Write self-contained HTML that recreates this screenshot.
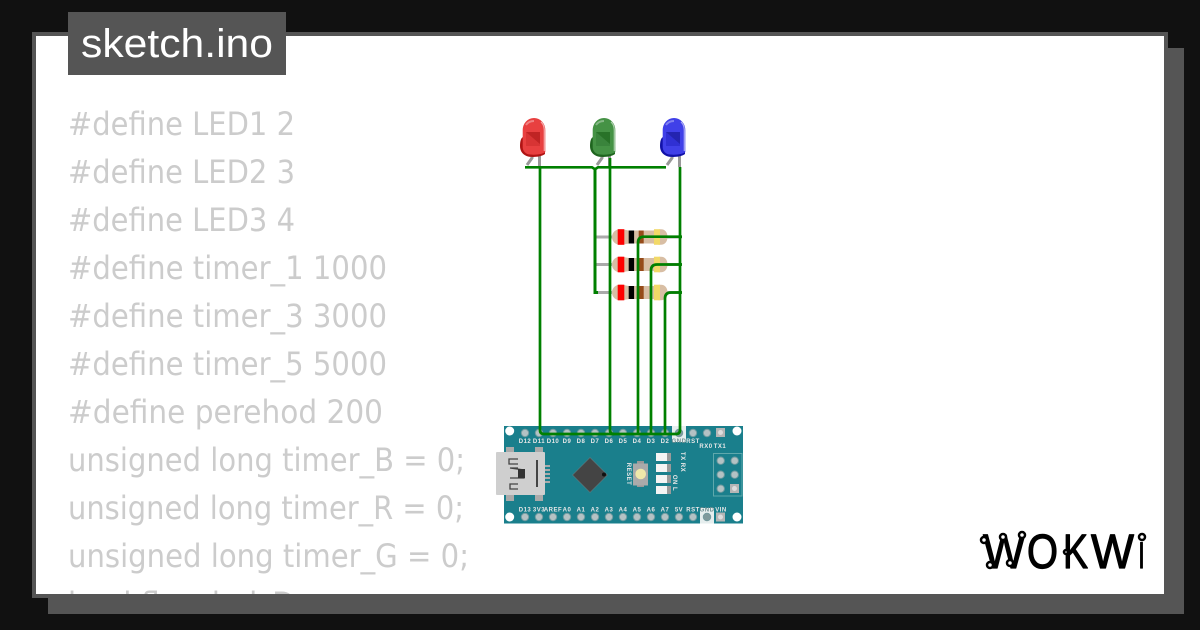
<!DOCTYPE html>
<html><head><meta charset="utf-8"><style>
html,body{margin:0;padding:0;width:1200px;height:630px;overflow:hidden;background:#111}
svg{display:block}
.c{font-family:"DejaVu Sans",sans-serif;font-size:32px;fill:#ccc}
.p{font-family:"Liberation Sans",sans-serif;font-size:6px;font-weight:bold;fill:#e8e8e8;text-anchor:middle;letter-spacing:.5px}
.w{font-family:"Liberation Sans",sans-serif;font-size:48px;fill:#000;stroke:#000;stroke-width:1.2;stroke-linejoin:round}
</style></head><body>
<svg width="1200" height="630" viewBox="0 0 1200 630" xmlns="http://www.w3.org/2000/svg">
<rect width="1200" height="630" fill="#111"/>
<rect x="48" y="48" width="1136" height="566" fill="#555"/>
<rect x="32" y="32" width="1136" height="566" fill="#555"/>
<rect x="36" y="36" width="1128" height="558" fill="#fff"/>
<clipPath id="cl"><rect x="36" y="36" width="1128" height="558"/></clipPath>
<g clip-path="url(#cl)">
<text class="c" x="68" y="135" textLength="227" lengthAdjust="spacingAndGlyphs">#define LED1 2</text>
<text class="c" x="68" y="183" textLength="227" lengthAdjust="spacingAndGlyphs">#define LED2 3</text>
<text class="c" x="68" y="231" textLength="227" lengthAdjust="spacingAndGlyphs">#define LED3 4</text>
<text class="c" x="68" y="279" textLength="319" lengthAdjust="spacingAndGlyphs">#define timer_1 1000</text>
<text class="c" x="68" y="327" textLength="319" lengthAdjust="spacingAndGlyphs">#define timer_3 3000</text>
<text class="c" x="68" y="375" textLength="319" lengthAdjust="spacingAndGlyphs">#define timer_5 5000</text>
<text class="c" x="68" y="423" textLength="315" lengthAdjust="spacingAndGlyphs">#define perehod 200</text>
<text class="c" x="68" y="471" textLength="397" lengthAdjust="spacingAndGlyphs">unsigned long timer_B = 0;</text>
<text class="c" x="68" y="519" textLength="396" lengthAdjust="spacingAndGlyphs">unsigned long timer_R = 0;</text>
<text class="c" x="68" y="567" textLength="401" lengthAdjust="spacingAndGlyphs">unsigned long timer_G = 0;</text>
<text class="c" x="68" y="615" textLength="227" lengthAdjust="spacingAndGlyphs">bool flag_led_D</text>
</g>
<rect x="68" y="12" width="218" height="63" fill="#555"/>
<text x="81" y="57" font-family="'Liberation Sans',sans-serif" font-size="40" fill="#fff" textLength="192" lengthAdjust="spacingAndGlyphs">sketch.ino</text>

<!-- LED leads -->
<g fill="none" stroke="#999" stroke-width="3">
<path d="M532 155v3l-5 7M539.500 155v12"/>
<path d="M602 155v3l-5 7M609.500 155v12"/>
<path d="M672 155v3l-5 7M679.500 155v12"/>
</g>
<!-- LEDs -->
<g>
<path d="M520 146c0-5 1-8 3-9l5 0 17 14 0 3c-4 3-12 3.500-17 2.500-5-1.500-8-5-8-10.500z" fill="#b01414"/>
<path d="M522.700 130a11.300 12 0 0 1 22.600 0v22c-3 2.500-12 3.500-18 2-3-1.500-4.600-4-4.600-7z" fill="#e84040"/>
<path d="M526 132h14v14h-14z" fill="#d83434"/>
<path d="M526 132l14 12v-12z" fill="#c02424"/>
<path d="M541 122c2.500 2 3.300 5 3.300 9v20" fill="none" stroke="#fff" stroke-opacity=".55" stroke-width="1.200"/>
<path d="M526 125c2-3 5-4 8-4" fill="none" stroke="#fff" stroke-opacity=".35" stroke-width="2"/>
</g>
<g transform="translate(70 0)">
<path d="M520 146c0-5 1-8 3-9l5 0 17 14 0 3c-4 3-12 3.500-17 2.500-5-1.500-8-5-8-10.500z" fill="#1f651f"/>
<path d="M522.700 130a11.300 12 0 0 1 22.600 0v22c-3 2.500-12 3.500-18 2-3-1.500-4.600-4-4.600-7z" fill="#459245"/>
<path d="M526 132h14v14h-14z" fill="#3a843c"/>
<path d="M526 132l14 12v-12z" fill="#287228"/>
<path d="M541 122c2.500 2 3.300 5 3.300 9v20" fill="none" stroke="#fff" stroke-opacity=".55" stroke-width="1.200"/>
<path d="M526 125c2-3 5-4 8-4" fill="none" stroke="#fff" stroke-opacity=".35" stroke-width="2"/>
</g>
<g transform="translate(140 0)">
<path d="M520 146c0-5 1-8 3-9l5 0 17 14 0 3c-4 3-12 3.500-17 2.500-5-1.500-8-5-8-10.500z" fill="#1212a8"/>
<path d="M522.700 130a11.300 12 0 0 1 22.600 0v22c-3 2.500-12 3.500-18 2-3-1.500-4.600-4-4.600-7z" fill="#4040e8"/>
<path d="M526 132h14v14h-14z" fill="#3030d4"/>
<path d="M526 132l14 12v-12z" fill="#2424b0"/>
<path d="M541 122c2.500 2 3.300 5 3.300 9v20" fill="none" stroke="#fff" stroke-opacity=".55" stroke-width="1.200"/>
<path d="M526 125c2-3 5-4 8-4" fill="none" stroke="#fff" stroke-opacity=".35" stroke-width="2"/>
</g>

<!-- Resistors -->
<g>
<path d="M595 237H612M660 237H682" stroke="#aaa" stroke-width="3" fill="none"/>
<path d="M612 237c0-5 4-7.800 8-7.800 5 0 6 1.300 11 1.300h20c5 0 6-1.300 10-1.300 4 0 6.500 3 6.500 7.800s-3 7.800-6.500 7.800c-4 0-5-1.300-10-1.300h-20c-5 0-6 1.300-11 1.300-4 0-8-2.800-8-7.800z" fill="#d8bea4"/>
<rect x="617.700" y="229.200" width="6.600" height="15.600" fill="#f00"/>
<rect x="628.700" y="230.500" width="5.400" height="13" fill="#000"/>
<rect x="638.700" y="230.500" width="5" height="13" fill="#964b1a"/>
<rect x="654" y="229.200" width="6" height="15.600" fill="#f2d968"/>
</g>
<g transform="translate(0 27.500)">
<path d="M595 237H612M660 237H682" stroke="#aaa" stroke-width="3" fill="none"/>
<path d="M612 237c0-5 4-7.800 8-7.800 5 0 6 1.300 11 1.300h20c5 0 6-1.300 10-1.300 4 0 6.500 3 6.500 7.800s-3 7.800-6.500 7.800c-4 0-5-1.300-10-1.300h-20c-5 0-6 1.300-11 1.300-4 0-8-2.800-8-7.800z" fill="#d8bea4"/>
<rect x="617.700" y="229.200" width="6.600" height="15.600" fill="#f00"/>
<rect x="628.700" y="230.500" width="5.400" height="13" fill="#000"/>
<rect x="638.700" y="230.500" width="5" height="13" fill="#964b1a"/>
<rect x="654" y="229.200" width="6" height="15.600" fill="#f2d968"/>
</g>
<g transform="translate(0 55.500)">
<path d="M595 237H612M660 237H682" stroke="#aaa" stroke-width="3" fill="none"/>
<path d="M612 237c0-5 4-7.800 8-7.800 5 0 6 1.300 11 1.300h20c5 0 6-1.300 10-1.300 4 0 6.500 3 6.500 7.800s-3 7.800-6.500 7.800c-4 0-5-1.300-10-1.300h-20c-5 0-6 1.300-11 1.300-4 0-8-2.800-8-7.800z" fill="#d8bea4"/>
<rect x="617.700" y="229.200" width="6.600" height="15.600" fill="#f00"/>
<rect x="628.700" y="230.500" width="5.400" height="13" fill="#000"/>
<rect x="638.700" y="230.500" width="5" height="13" fill="#964b1a"/>
<rect x="654" y="229.200" width="6" height="15.600" fill="#f2d968"/>
</g>

<!-- Board -->
<rect x="504" y="426" width="239" height="97.500" fill="#1a7f8c"/>
<rect x="672" y="426" width="14" height="16" fill="#e6eeee"/>
<rect x="700" y="508" width="14" height="15.500" fill="#e6eeee"/>
<g fill="#fff">
<circle cx="509.700" cy="431" r="4.500"/><circle cx="509.700" cy="517" r="4.500"/>
<circle cx="737" cy="431" r="4.500"/><circle cx="737" cy="517" r="4.500"/>
</g>
<g fill="#b4c2c4" stroke="#6f9a9f" stroke-width="1">
<circle cx="525" cy="433" r="3.700"/><circle cx="539" cy="433" r="3.700"/><circle cx="553" cy="433" r="3.700"/><circle cx="567" cy="433" r="3.700"/><circle cx="581" cy="433" r="3.700"/><circle cx="595" cy="433" r="3.700"/><circle cx="609" cy="433" r="3.700"/><circle cx="623" cy="433" r="3.700"/><circle cx="637" cy="433" r="3.700"/><circle cx="651" cy="433" r="3.700"/><circle cx="665" cy="433" r="3.700"/><circle cx="679" cy="433" r="3.700"/><circle cx="693" cy="433" r="3.700"/><circle cx="707" cy="433" r="3.700"/>
<circle cx="525" cy="517" r="3.700"/><circle cx="539" cy="517" r="3.700"/><circle cx="553" cy="517" r="3.700"/><circle cx="567" cy="517" r="3.700"/><circle cx="581" cy="517" r="3.700"/><circle cx="595" cy="517" r="3.700"/><circle cx="609" cy="517" r="3.700"/><circle cx="623" cy="517" r="3.700"/><circle cx="637" cy="517" r="3.700"/><circle cx="651" cy="517" r="3.700"/><circle cx="665" cy="517" r="3.700"/><circle cx="679" cy="517" r="3.700"/><circle cx="693" cy="517" r="3.700"/><circle cx="707" cy="517" r="3.700"/>
<circle cx="720.700" cy="460.700" r="3.700"/><circle cx="734.700" cy="460.700" r="3.700"/><circle cx="720.700" cy="474.700" r="3.700"/><circle cx="734.700" cy="474.700" r="3.700"/><circle cx="720.700" cy="488.700" r="3.700"/>
</g>
<g fill="#b5b5b5"><rect x="716" y="428" width="9" height="9"/><rect x="716" y="512.500" width="9" height="9"/><rect x="730" y="484" width="9" height="9"/></g>
<g fill="#ddd"><circle cx="720.500" cy="432.500" r="2.500"/><circle cx="720.500" cy="517" r="2.500"/><circle cx="734.500" cy="488.500" r="2.500"/></g>
<circle cx="679" cy="433" r="3.500" fill="#7f9a9c"/><circle cx="707" cy="517" r="3.500" fill="#7f9a9c"/>
<g>
<text class="p" x="525" y="443">D12</text><text class="p" x="539" y="443">D11</text><text class="p" x="553" y="443">D10</text><text class="p" x="567" y="443">D9</text><text class="p" x="581" y="443">D8</text><text class="p" x="595" y="443">D7</text><text class="p" x="609" y="443">D6</text><text class="p" x="623" y="443">D5</text><text class="p" x="637" y="443">D4</text><text class="p" x="651" y="443">D3</text><text class="p" x="665" y="443">D2</text><text class="p" x="679" y="443" style="fill:#6f8f92">GND</text><text class="p" x="693" y="443">RST</text>
<text class="p" x="706" y="448">RX0</text><text class="p" x="720" y="448">TX1</text>
<text class="p" x="525" y="511.500">D13</text><text class="p" x="539" y="511.500">3V3</text><text class="p" x="553" y="511.500">AREF</text><text class="p" x="567" y="511.500">A0</text><text class="p" x="581" y="511.500">A1</text><text class="p" x="595" y="511.500">A2</text><text class="p" x="609" y="511.500">A3</text><text class="p" x="623" y="511.500">A4</text><text class="p" x="637" y="511.500">A5</text><text class="p" x="651" y="511.500">A6</text><text class="p" x="665" y="511.500">A7</text><text class="p" x="679" y="511.500">5V</text><text class="p" x="693" y="511.500">RST</text><text class="p" x="707" y="511.500" style="fill:#6f8f92">GND</text><text class="p" x="721" y="511.500">VIN</text>
<text class="p" transform="translate(627 474) rotate(90)">RESET</text>
<text class="p" transform="translate(681 462) rotate(90)">TX RX</text>
<text class="p" transform="translate(673 483) rotate(90)">ON  L</text>
</g>
<!-- USB -->
<g fill="#aaa"><rect x="506" y="447" width="8" height="5"/><rect x="535" y="447" width="8" height="5"/><rect x="506" y="495" width="8" height="6"/><rect x="535" y="495" width="8" height="6"/></g>
<rect x="496" y="452" width="49" height="43" rx="1" fill="#cfcfcf"/>
<g fill="#aaa"><rect x="545" y="465" width="5" height="2"/><rect x="545" y="469" width="5" height="2"/><rect x="545" y="473" width="5" height="2"/><rect x="545" y="477" width="5" height="2"/><rect x="545" y="481" width="5" height="2"/></g>
<rect x="536" y="460" width="2" height="27" fill="#444"/>
<g fill="none" stroke="#444" stroke-width="1.300">
<path d="M518 459h-9v5h9M518 468h-8l14 2v8h-14M518 484h-8v5h8"/>
</g>
<rect x="518" y="469" width="7" height="9" fill="#333"/>
<!-- chip -->
<path d="M590 457.500L607.500 475L590 492.500L572.500 475z" fill="#444" stroke="#5e7a7e" stroke-width=".6"/>
<circle cx="604" cy="474.500" r="2" fill="#111"/>
<!-- reset -->
<rect x="637" y="461" width="7" height="26" fill="#999"/>
<rect x="633" y="463.500" width="15" height="22" fill="#aaa"/>
<circle cx="640.700" cy="474" r="5.300" fill="#eee8aa"/>
<!-- small LEDs -->
<g fill="#f4f4f4"><rect x="656" y="453" width="15" height="8"/><rect x="656" y="464" width="15" height="8"/><rect x="656" y="475" width="15" height="8"/><rect x="656" y="486" width="15" height="8"/></g>
<g fill="#9a9a9a"><rect x="667" y="453" width="4" height="8"/><rect x="667" y="464" width="4" height="8"/><rect x="667" y="475" width="4" height="8"/><rect x="667" y="486" width="4" height="8"/></g>
<rect x="713.500" y="453.500" width="28.500" height="42.500" fill="none" stroke="#5fa8ac" stroke-width="1"/>

<!-- Wires -->
<g fill="none" stroke="#008000" stroke-width="2.700">
<path d="M525 167.300H592l3 2 3-2H666"/>
<path d="M540 167V430q0 4 4 4H676q4 0 4-4V167"/>
<path d="M610 158V430q0 4 4 4"/>
<path d="M595 168V292.500H598" stroke-width="3"/>
<path d="M682 236.700H644q-6 0-6 6V434"/>
<path d="M682 264.500H657q-6 0-6 6V434"/>
<path d="M682 292.500H671q-6 0-6 6V434"/>
</g>

<!-- Logo -->
<text class="w" x="983" y="568" textLength="42" lengthAdjust="spacingAndGlyphs">W</text>
<text class="w" x="1027" y="568" textLength="31" lengthAdjust="spacingAndGlyphs">O</text>
<text class="w" x="1063" y="568" textLength="25" lengthAdjust="spacingAndGlyphs">K</text>
<text class="w" x="1091" y="568" textLength="43" lengthAdjust="spacingAndGlyphs">W</text>
<text class="w" x="1138" y="568" textLength="7" lengthAdjust="spacingAndGlyphs">ı</text>
<g fill="#fff" stroke="#000" stroke-width="2.500">
<circle cx="984" cy="540" r="3"/><circle cx="1003" cy="537" r="3"/><circle cx="1022" cy="535" r="3"/><circle cx="990" cy="565" r="3"/><circle cx="1010" cy="563" r="3"/><circle cx="1066" cy="552" r="2"/><circle cx="1142" cy="537" r="3"/>
</g>
</svg>
</body></html>
